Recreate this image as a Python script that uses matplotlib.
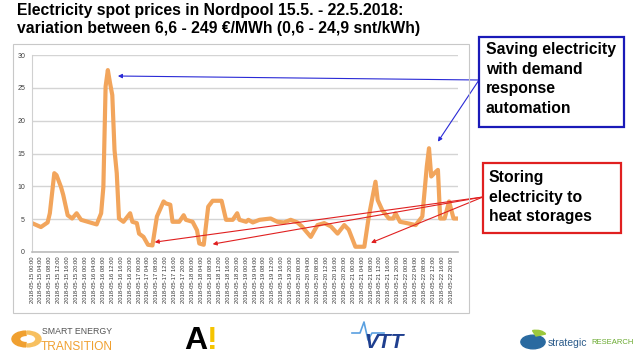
import numpy as np
import matplotlib.pyplot as plt
from matplotlib.patches import Rectangle, Wedge, Circle

# spot price data (snt/kWh), hours from 2018-05-15 00:00
hours = [0, 4, 7, 8, 10, 11, 13, 14, 16, 18, 20, 22, 25, 29, 31, 32, 33, 34, 35, 36,
         37, 38, 39, 41, 44, 45, 47, 48, 50, 52, 54, 56, 59, 60, 62, 63, 66, 68, 69,
         72, 74, 75, 77, 79, 81, 85, 87, 90, 92, 93, 96, 97, 99, 102, 107, 110, 113,
         116, 119, 121, 125, 128, 131, 134, 137, 140, 142, 145, 149, 151, 154, 155,
         157, 160, 162, 163, 165, 168, 172, 175, 177, 178, 179, 181, 182, 183, 185,
         187, 189, 191]
prices = [4.4, 3.8, 4.5, 5.9, 12.0, 11.7, 9.9, 8.7, 5.6, 5.1, 5.9, 4.9, 4.6, 4.2,
          5.9, 9.9, 25.2, 27.7, 25.7, 23.9, 15.5, 12.0, 5.1, 4.6, 5.9, 4.6, 4.4, 2.8,
          2.3, 1.1, 1.0, 5.4, 7.7, 7.4, 7.2, 4.6, 4.6, 5.6, 4.9, 4.6, 3.3, 1.3, 1.1,
          6.9, 7.8, 7.8, 4.9, 4.9, 5.9, 4.9, 4.6, 4.9, 4.5, 4.9, 5.1, 4.6, 4.5, 4.9,
          4.5, 3.9, 2.3, 4.1, 4.4, 3.9, 2.8, 4.1, 3.4, 0.8, 0.8, 5.4, 10.7, 7.9, 6.4,
          5.1, 5.1, 5.9, 4.6, 4.4, 4.1, 5.4, 13.0, 15.8, 11.5, 12.2, 12.5, 5.1, 5.1,
          7.7, 5.1, 5.1]

days = [15, 16, 17, 18, 19, 20, 21, 22]
tick_hours = np.arange(0, 192, 4)
tick_labels = [f"2018-05-{days[h // 24]} {h % 24:02d}:00" for h in tick_hours]

title = ("Electricity spot prices in Nordpool 15.5. - 22.5.2018:\n"
         "variation between 6,6 - 249 €/MWh (0,6 - 24,9 snt/kWh)")
blue_text = "Saving electricity\nwith demand\nresponse\nautomation"
red_text = "Storing\nelectricity to\nheat storages"

W, H = 638, 359
plt.rcParams['font.family'] = ['Liberation Sans', 'DejaVu Sans']
fig = plt.figure(figsize=(W / 100, H / 100), dpi=100)


def fx(x):
    return x / W


def fy(y):
    return 1 - y / H


# light frame around the chart
fig.patches.append(Rectangle((fx(13), fy(313)), fx(469) - fx(13), fy(44) - fy(313),
                             transform=fig.transFigure, fill=False,
                             edgecolor='#c8c8c8', linewidth=0.8))

ax = fig.add_axes([fx(32), fy(252), fx(458) - fx(32), fy(55) - fy(252)])
ax.plot(hours, prices, color='#f2a55c', linewidth=3, solid_joinstyle='round')
ax.set_xlim(0, 191)
ax.set_ylim(0, 30)
ax.set_yticks(range(0, 31, 5))
ax.set_xticks(tick_hours)
ax.set_xticklabels(tick_labels, rotation=90, fontsize=4.2, color='#333333')
ax.tick_params(axis='y', length=0, pad=5, labelsize=5, labelcolor='#404040')
ax.tick_params(axis='x', length=0, pad=3)
ax.grid(axis='y', color='#d4d4d4', linewidth=1)
ax.set_axisbelow(True)
for s in ['top', 'right']:
    ax.spines[s].set_visible(False)
ax.spines['left'].set_color('#d0d0d0')
ax.spines['bottom'].set_color('#bbbbbb')
ax.spines['bottom'].set_linewidth(1.2)

fig.text(fx(17), fy(3), title, fontsize=11.3, fontweight='bold', va='top',
         ha='left', linespacing=1.25)

# annotation boxes
fig.text(fx(486), fy(42), blue_text, fontsize=11.3, fontweight='bold', va='top',
         ha='left', linespacing=1.38)
fig.patches.append(Rectangle((fx(479), fy(127)), fx(624) - fx(479), fy(37) - fy(127),
                             transform=fig.transFigure, fill=False,
                             edgecolor='#1a1ab8', linewidth=1.6))
fig.text(fx(489), fy(170), red_text, fontsize=11.3, fontweight='bold', va='top',
         ha='left', linespacing=1.38)
fig.patches.append(Rectangle((fx(483), fy(233)), fx(621) - fx(483), fy(163) - fy(233),
                             transform=fig.transFigure, fill=False,
                             edgecolor='#e02020', linewidth=1.6))

arrow_kw = dict(arrowstyle='-|>', mutation_scale=6, linewidth=0.8, shrinkA=0, shrinkB=0)
for tx, ty in [(38.5, 26.8), (182, 16.8)]:
    ax.annotate('', xy=(tx, ty), xycoords='data',
                xytext=(fx(479), fy(80)), textcoords='figure fraction',
                arrowprops=dict(color='#2a2ad6', **arrow_kw), annotation_clip=False)
for tx, ty in [(55, 1.5), (81, 1.2), (152, 1.4)]:
    ax.annotate('', xy=(tx, ty), xycoords='data',
                xytext=(fx(483), fy(197)), textcoords='figure fraction',
                arrowprops=dict(color='#e02020', **arrow_kw), annotation_clip=False)

# logos along the bottom (simplified)
fig.patches.append(Wedge((fx(26), fy(339)), 0.022, 90, 270, width=0.012,
                         transform=fig.transFigure, color='#f0a030'))
fig.patches.append(Wedge((fx(27), fy(339)), 0.022, -90, 90, width=0.008,
                         transform=fig.transFigure, color='#f7c060'))
fig.text(fx(42), fy(331), "SMART ENERGY", fontsize=6.3, color='#555555', va='center')
fig.text(fx(41), fy(347), "TRANSITION", fontsize=8.6, color='#f0a030', va='center')

fig.text(fx(184), fy(341), "A", fontsize=23, fontweight='bold', color='black',
         va='center', ha='left')
fig.text(fx(207), fy(341), "!", fontsize=23, fontweight='bold', color='#f5c400',
         va='center', ha='left')

fig.lines.append(plt.Line2D([fx(352), fx(360), fx(364), fx(368), fx(372), fx(384)],
                            [fy(333), fy(333), fy(322), fy(340), fy(333), fy(333)],
                            transform=fig.transFigure, color='#5aa0e0', linewidth=1.2))
fig.text(fx(364), fy(342), "VTT", fontsize=15, fontweight='bold', style='italic',
         color='#1f3f8f', va='center', ha='left')

fig.patches.append(Circle((fx(533), fy(342)), 0.019, transform=fig.transFigure,
                          color='#2a6aa0'))
fig.patches.append(Wedge((fx(536), fy(336)), 0.016, 20, 110,
                         transform=fig.transFigure, color='#9cc83c'))
fig.text(fx(548), fy(343), "strategic", fontsize=7.5, color='#2a5a8a', va='center')
fig.text(fx(591), fy(343), "RESEARCH", fontsize=5.5, color='#6aaa30', va='center')

plt.savefig('out.png', dpi=100)
